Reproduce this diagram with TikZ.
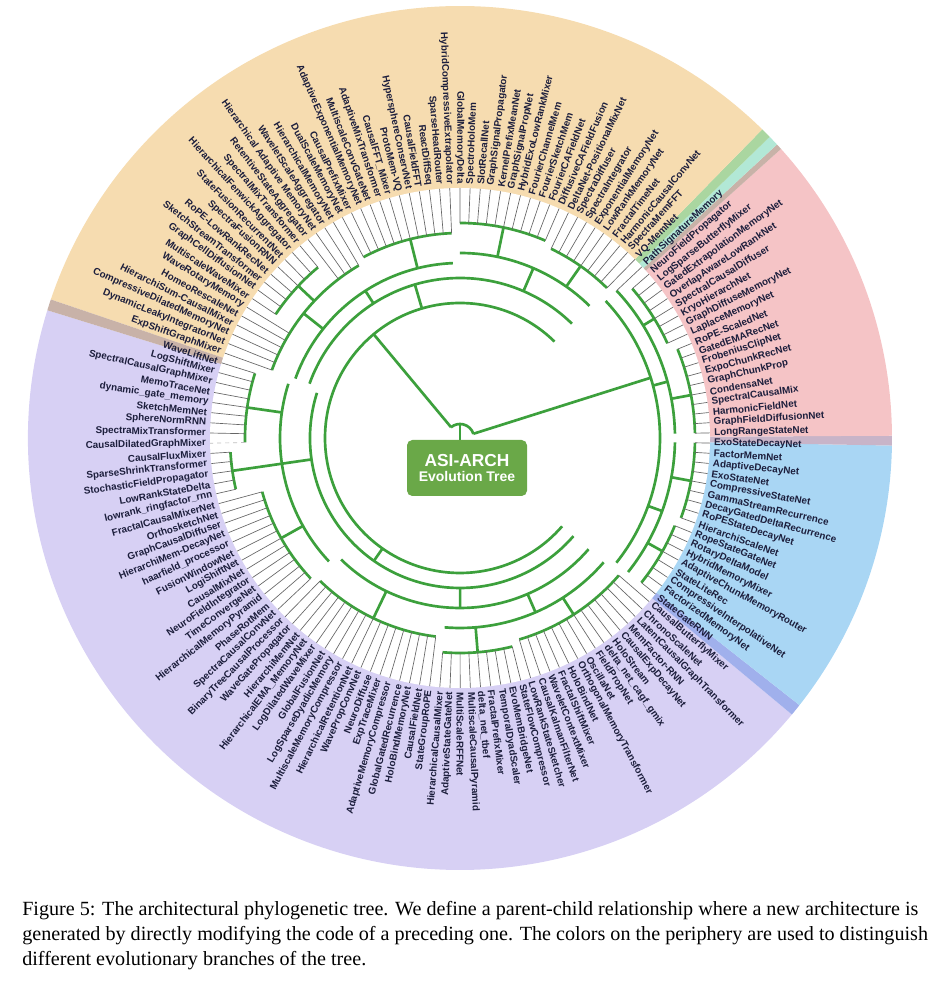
\documentclass[tikz,border=0pt]{standalone}
\usepackage{fontspec}
\setmainfont{Liberation Serif}
\newfontfamily\lsans{Liberation Sans}
\definecolor{cOr}{RGB}{246,220,176}
\definecolor{cPu}{RGB}{215,208,244}
\definecolor{cPk}{RGB}{245,196,198}
\definecolor{cBl}{RGB}{169,214,244}
\definecolor{cGr}{RGB}{170,214,160}
\definecolor{cTe}{RGB}{178,232,214}
\definecolor{cBr}{RGB}{200,178,168}
\definecolor{cMa}{RGB}{200,180,200}
\definecolor{cBp}{RGB}{160,176,236}
\definecolor{cTree}{RGB}{60,160,60}
\definecolor{cBox}{RGB}{106,168,72}
\definecolor{cTxt}{RGB}{28,30,60}
\newcommand\sect[3]{\fill[#1] (0,0) -- (#2:432) arc[start angle=#2,end angle=#3,radius=432] -- cycle;}
\newcommand\clade[5]{%
  \pgfmathsetmacro\aA{1.17+2.338*(#1)}\pgfmathsetmacro\aB{1.17+2.338*(#2)}\pgfmathsetmacro\aM{1.17+2.338*(#4)}%
  \draw[branch] (\aA:#3) arc[start angle=\aA,end angle=\aB,radius=#3];
  \draw[branch] (\aM:#5) -- (\aM:#3);}
\newcommand\leaves[3]{\foreach \i in {#1,...,#2}{\pgfmathsetmacro\a{1.17+2.338*\i}\draw[leaf] (\a:#3) -- (\a:250);}}
\begin{document}
\begin{tikzpicture}[x=0.75pt,y=0.75pt,
  branch/.style={cTree,line width=2pt},
  leaf/.style={gray!80!black,line width=0.5pt},
  lab/.style={font=\lsans\bfseries\fontsize{7.4}{8}\selectfont,text=cTxt,inner sep=0pt},
  rootbox/.style={fill=cBox,rounded corners=4pt,minimum width=90pt,minimum height=42pt,align=center,text=white,font=\lsans\bfseries}]
\useasboundingbox (0,0) rectangle (938,986);
\begin{scope}[shift={(460,548)}]
\sect{cPu}{162.8}{320.2}
\sect{cBp}{320.2}{321.8}
\sect{cBl}{321.8}{359.0}
\sect{cMa}{-1.0}{0.3}
\sect{cPk}{0.3}{42.0}
\sect{cBr}{42.0}{42.8}
\sect{cTe}{42.8}{44.2}
\sect{cGr}{44.2}{45.6}
\sect{cOr}{45.6}{161.3}
\sect{cBr}{161.3}{162.8}
\fill[white] (0,0) circle[radius=250];
% tree
\coordinate (R) at (0,0);
\draw[branch] (17:14) arc[start angle=17,end angle=130,radius=14];
\draw[branch] (90:14) -- (270:20);
\clade{-17}{18}{200}{7}{14}
\clade{0}{18}{215}{6}{200}
\clade{-17}{-1}{215}{-9}{200}
\clade{0}{9}{235}{4}{215}
\clade{10}{17}{228}{13}{215}
\clade{-17}{-10}{232}{-13}{215}
\clade{-9}{-1}{235}{-5}{215}
\clade{19}{136}{135}{55}{14}
\clade{19}{68}{160}{45}{135}
\clade{19}{38}{185}{28}{160}
\clade{19}{27}{210}{23}{185}
\clade{28}{38}{215}{33}{185}
\clade{39}{68}{175}{52}{160}
\clade{39}{50}{205}{44}{175}
\clade{51}{68}{200}{60}{175}
\clade{55}{62}{222}{58}{200}
\clade{69}{136}{150}{100}{135}
\clade{69}{95}{180}{80}{150}
\clade{69}{77}{215}{73}{180}
\clade{78}{82}{230}{80}{180}
\clade{83}{95}{205}{89}{180}
\clade{96}{136}{170}{115}{150}
\clade{96}{112}{200}{104}{170}
\clade{113}{136}{190}{125}{170}
\clade{113}{121}{215}{117}{190}
\clade{122}{136}{210}{129}{190}
\leaves{0}{9}{235}
\leaves{10}{17}{228}
\leaves{18}{18}{215}
\leaves{-17}{-10}{232}
\leaves{-9}{-1}{235}
\leaves{19}{27}{210}
\leaves{28}{38}{215}
\leaves{39}{50}{205}
\leaves{51}{54}{200}
\leaves{55}{62}{222}
\leaves{63}{68}{200}
\leaves{69}{76}{215}
\draw[gray!50,dashed,line width=0.5pt] (181.2:215) -- (181.2:250);
\leaves{78}{82}{230}
\leaves{83}{95}{205}
\leaves{96}{112}{200}
\leaves{113}{121}{215}
\leaves{122}{136}{210}
% labels
\foreach \t [count=\c from -17] in {StateGateRNN,FactorizedMemoryNet,CompressiveInterpolativeNet,StateLiteRec,AdaptiveChunkMemoryRouter,HybridMemoryMixer,RotaryDeltaModel,RopeStateGateNet,HierarchiScaleNet,RoPEStateDecayNet,DecayGatedDeltaRecurrence,GammaStreamRecurrence,CompressiveStateNet,ExoStateNet,AdaptiveDecayNet,FactorMemNet,ExoStateDecayNet,
LongRangeStateNet,GraphFieldDiffusionNet,HarmonicFieldNet,SpectralCausalMix,CondensaNet,GraphChunkProp,ExpoChunkRecNet,FrobeniusClipNet,GatedEMARecNet,RoPE-ScaledNet,LaplaceMemoryNet,GraphDiffuseMemoryNet,KryoHierarchNet,SpectralCausalDiffuser,OverlapAwareLowRankNet,GatedExtrapolationMemoryNet,LogSparseButterflyMixer,NeuroFieldPropagator,PathSignatureMemory,
VQ-MemNet,SpectraMemFFT,HarmonicCausalConvNet,FractalTimeNet,LowRankMemoryNet,ExponentialMemoryNet,SpectraIntegrator,SpectraDiffuser,DeltaNet-PositionalMixNet,DiffusiveCAFieldFusion,FourierCAFieldNet,FourierSketchMem,FourierChannelMem,HybridExoLowRankMixer,GraphSignalPropNet,KernelPrefixMeanNet,GraphSignalPropagator,SlotRecallNet,SpectroHoloMem,GlobalMemoryDelta,HybridCompressiveExtrapolator,SparseHeadRouter,ReactDiffSeq,CausalFieldFFT,HypersphereConservNet,ProtoMem-VQ,CausalFFT\_Mixer,AdaptiveMixTransformer,MultiscaleConvGateNet,AdaptiveExponentialMemoryNet,CausalPrefixMixer,DualScaleMemoryNet,HierarchicalMemoryNet,WaveletScaleAggregator,Hierarchical Adaptive MemoryNet,RetentiveStateAggregator,SpectralMixTransformer,HierarchicalFenwickAggregator,StateFusionRecurrentNet,SpectraFusionRNN,RoPE-LowRankRecNet,SketchStreamTransformer,GraphCellDiffusionNet,MultiscaleWaveMixer,WaveRotaryMemory,HomeoRescaleNet,HierarchiSum-CausalMixer,CompressiveDilatedMemoryNet,DynamicLeakyIntegratorNet,ExpShiftGraphMixer,
WaveLiftNet,LogShiftMixer,SpectralCausalGraphMixer,MemoTraceNet,dynamic\_gate\_memory,SketchMemNet,SphereNormRNN,SpectraMixTransformer,CausalDilatedGraphMixer,CausalFluxMixer,SparseShrinkTransformer,StochasticFieldPropagator,LowRankStateDelta,lowrank\_ringfactor\_rnn,FractalCausalMixerNet,OrthosketchNet,GraphCausalDiffuser,HierarchiMem-DecayNet,haarfield\_processor,FusionWindowNet,LogiShiftNet,CausalMixNet,NeuroFieldIntegrator,TimeConvergeNet,HierarchicalMemoryPyramid,PhaseRotMem,SpectraCausalConvNet,BinaryTreeCausalProcessor,WaveGatePropagator,HierarchiMemNet,HierarchicalEMA\_MemoryNet,LogDilatedWaveMixer,GlobalFusionNet,LogSparseDyadicMemory,MultiscaleMemoryCompressor,HierarchicalRetentionNet,WavePropConvNet,NeuroDiffuse,ExpTraceMixer,AdaptiveMemoryCompressor,GlobalGatedRecurrence,HoloBindMemoryNet,CausalFieldNet,StateGroupRoPE,HierarchicalCausalMixer,AdaptiveStateGateNet,MultiScaleRFFNet,MultiscaleCausalPyramid,delta\_net\_tbef,FractalPrefixMixer,TemporalDyadScaler,EvoMemBridgeNet,StateFlowCompressor,LowRankStateSketcher,CausalKalmanFilterNet,WaveletContextMixer,FractalShiftMixer,HoloBindNet,OrthogonalMemoryTransformer,OscillaNet,FieldPropNet,delta\_net\_cagf\_gmix,HoloStream,CausalExpDecayNet,MemFactor-RNN,LatentCausalGraphTransformer,ChronoScaleNet,CausalButterflyMixer}{
  \pgfmathsetmacro\a{1.17+2.338*\c}
  \pgfmathsetmacro\b{\a-180}
  \ifnum\c>37 \ifnum\c<115
    \node[lab,anchor=east,rotate=\b] (L\c) at (\a:254) {\t};
  \else
    \node[lab,anchor=west,rotate=\a] (L\c) at (\a:254) {\t};
  \fi\else
    \node[lab,anchor=west,rotate=\a] (L\c) at (\a:254) {\t};
  \fi
}
\end{scope}
\node[rootbox] (root) at (467,518) {{\fontsize{13}{15}\selectfont ASI-ARCH}\\[-1pt]{\fontsize{10.5}{13}\selectfont Evolution Tree}};
\node[anchor=north west,inner sep=0pt,align=left,font=\fontsize{15.1}{18.75}\selectfont] (cap) at (22,85) {Figure 5: The architectural phylogenetic tree. We define a parent-child relationship where a new architecture is\\generated by directly modifying the code of a preceding one. The colors on the periphery are used to distinguish\\different evolutionary branches of the tree.};
\end{tikzpicture}
\end{document}
